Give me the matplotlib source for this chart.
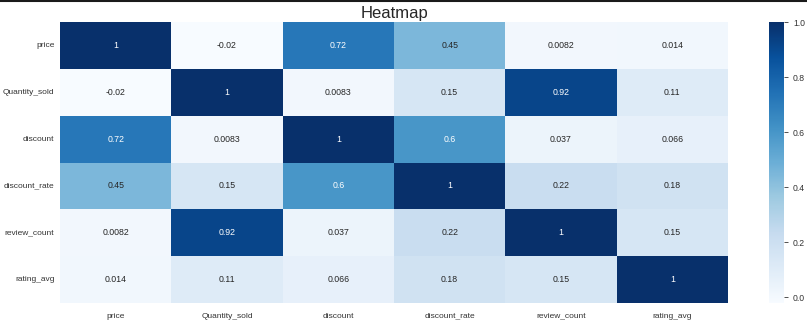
import matplotlib
matplotlib.use("Agg")
import matplotlib.pyplot as plt
import seaborn as sns
import numpy as np
import pandas as pd
from matplotlib.lines import Line2D

labels = ["price", "Quantity_sold", "discount", "discount_rate", "review_count", "rating_avg"]
row_price = [1, -0.02, 0.72, 0.45, 0.0082, 0.014]
row_qty = [-0.02, 1, 0.0083, 0.15, 0.92, 0.11]
row_discount = [0.72, 0.0083, 1, 0.6, 0.037, 0.066]
row_rate = [0.45, 0.15, 0.6, 1, 0.22, 0.18]
row_review = [0.0082, 0.92, 0.037, 0.22, 1, 0.15]
row_rating = [0.014, 0.11, 0.066, 0.18, 0.15, 1]

df = pd.DataFrame([row_price, row_qty, row_discount, row_rate, row_review, row_rating],
                  index=labels, columns=labels)

sns.set_style("white")
plt.rcParams['font.family'] = ['Liberation Sans', 'DejaVu Sans']

fig = plt.figure(figsize=(8.07, 3.24), dpi=100)
ax = fig.add_axes([60/807, 1-303/324, (728-60)/807, (303-22)/324])
cax = fig.add_axes([769/807, 1-303/324, 15/807, (303-22)/324])

sns.heatmap(df, annot=True, cmap="Blues", ax=ax, cbar_ax=cax,
            linewidths=0,
            annot_kws={"fontsize": 6.3})
ax.set_title("Heatmap", fontsize=12, color="#262626", pad=3)
ax.tick_params(axis='both', length=0, labelsize=6.0, colors="#333333")
ax.tick_params(axis='x', pad=7)
ax.tick_params(axis='y', pad=4)
plt.setp(ax.get_yticklabels(), rotation=0)
plt.setp(ax.get_xticklabels(), rotation=0)
cax.tick_params(labelsize=6.2, length=3, width=0.6, colors="#333333")
cax.set_yticks([0.0, 0.2, 0.4, 0.6, 0.8, 1.0])
for s in cax.spines.values():
    s.set_visible(False)

fig.add_artist(Line2D([0, 1], [1 - 1/324, 1 - 1/324], color="#1a1a1a", linewidth=1.5,
                      transform=fig.transFigure))

fig.savefig("out.png", dpi=100)
